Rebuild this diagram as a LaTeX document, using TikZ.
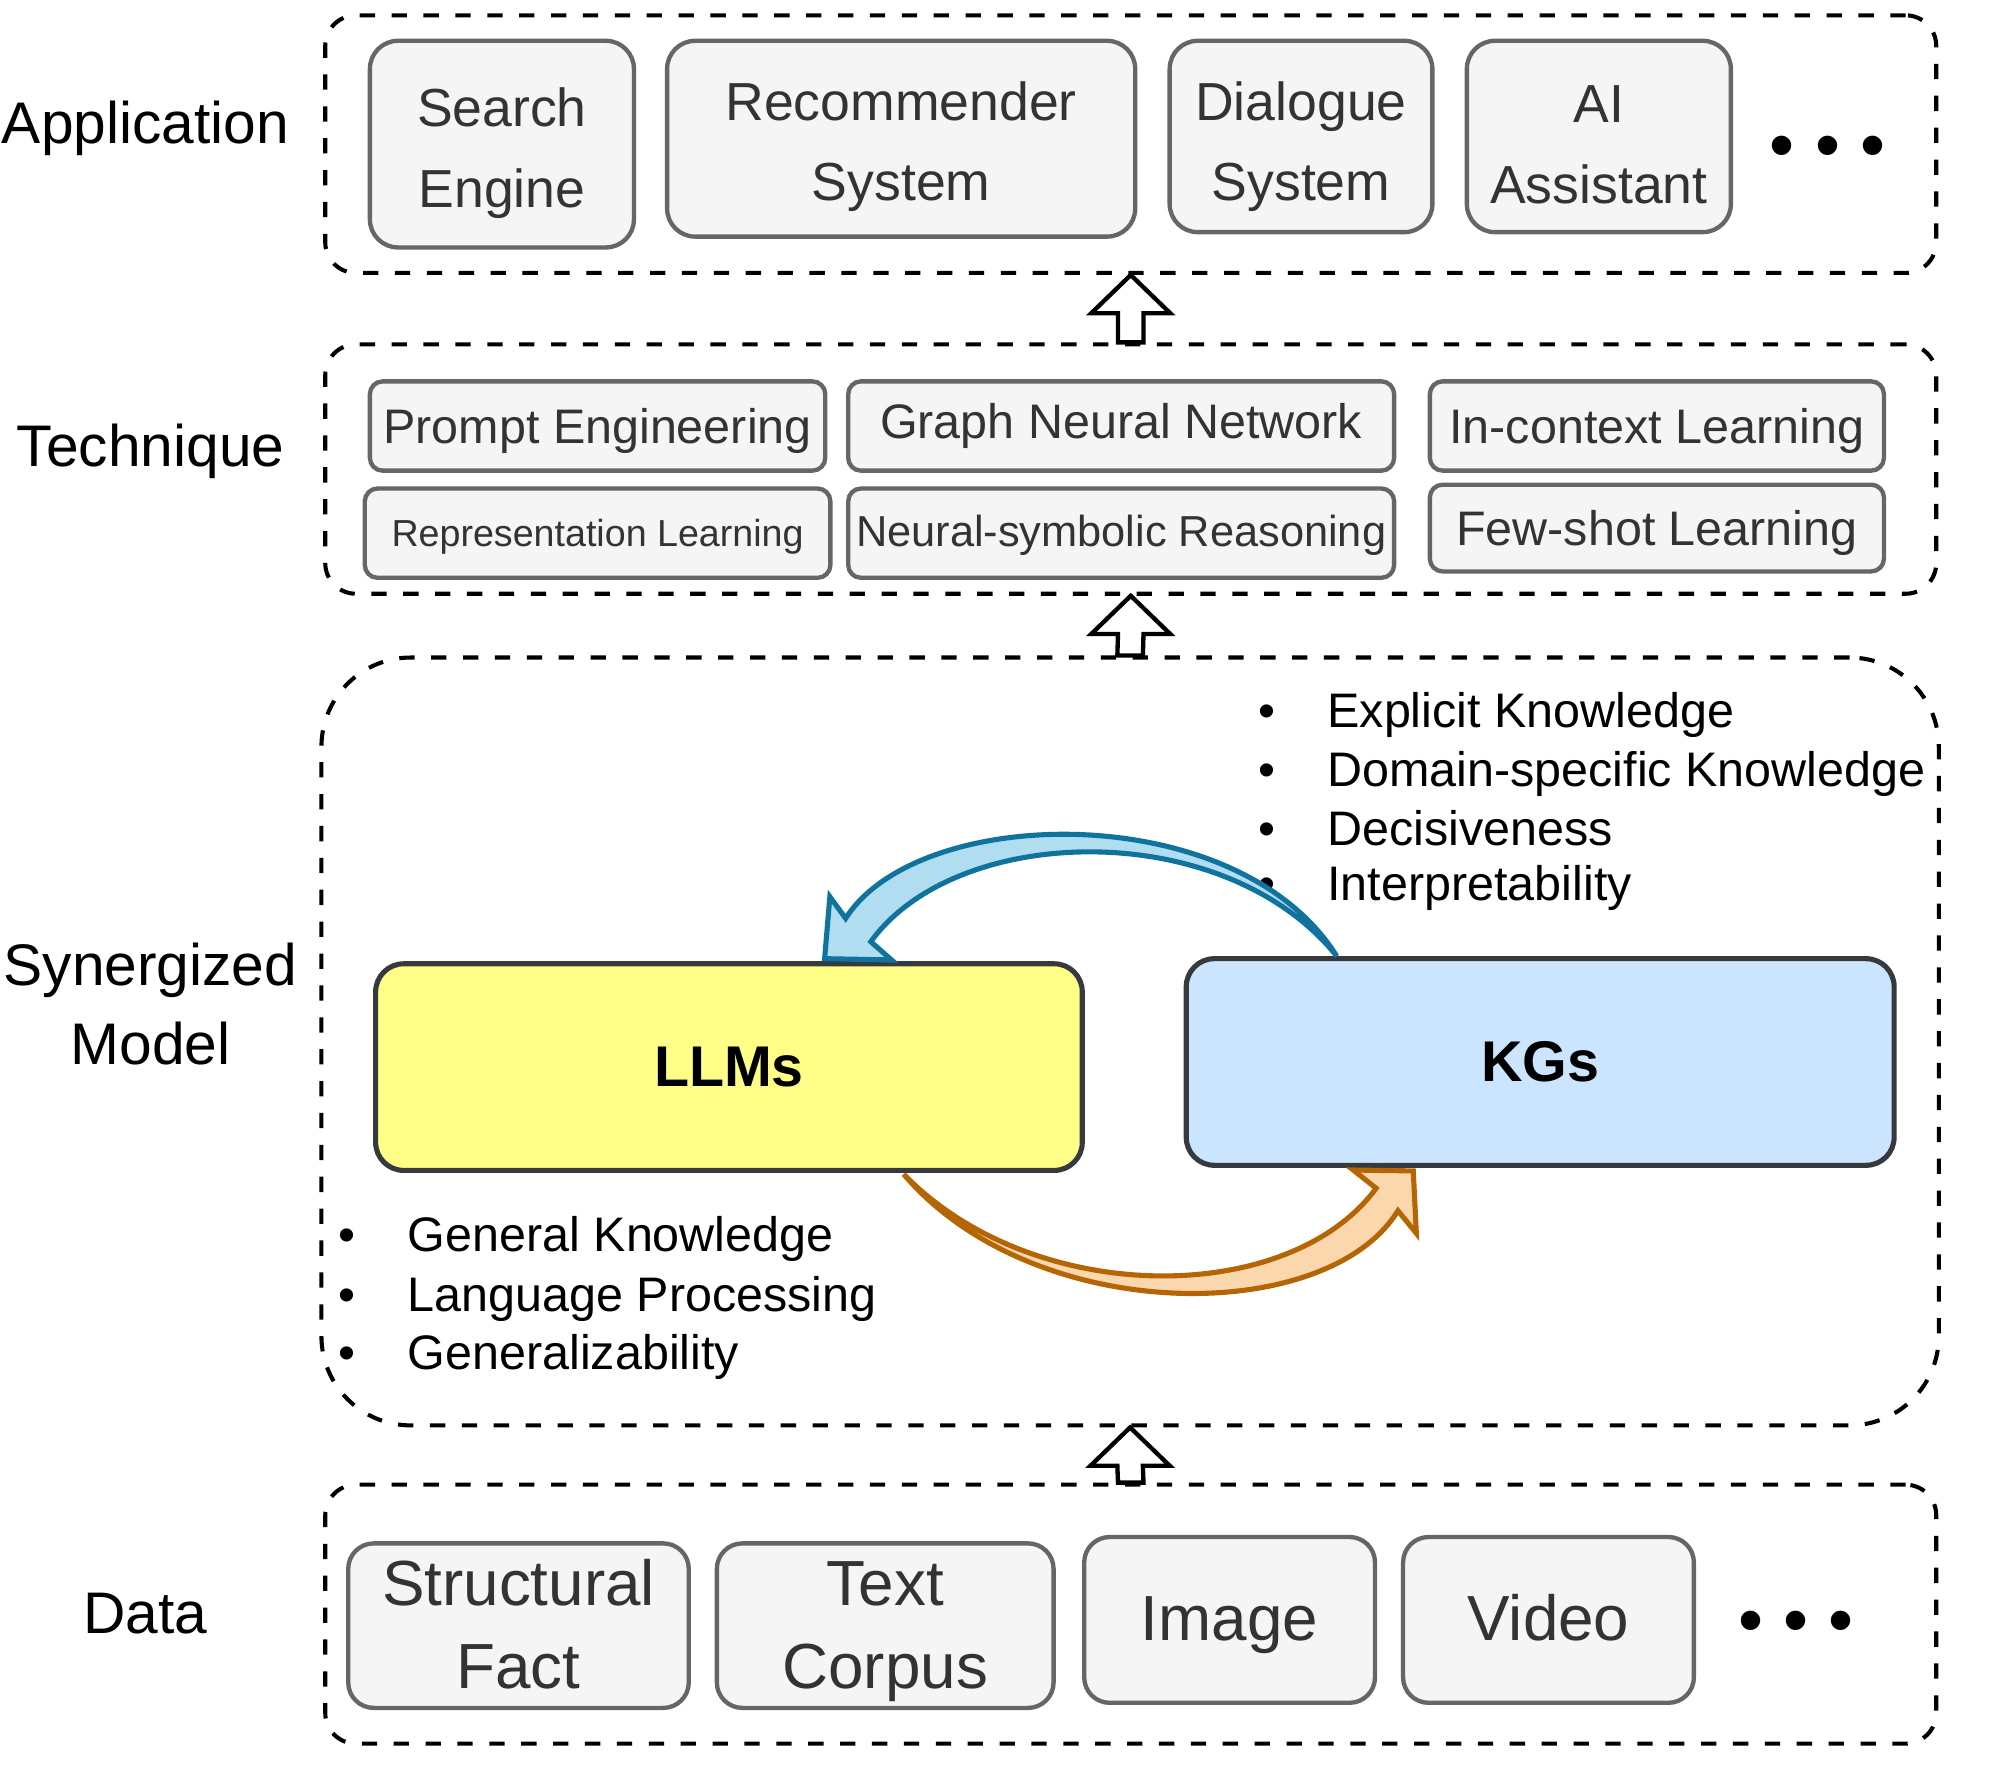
\documentclass[tikz,border=0pt]{standalone}
\usepackage{fontspec}
\setmainfont{Liberation Sans}
\usetikzlibrary{calc}

\definecolor{boxgray}{HTML}{F5F5F5}
\definecolor{boxline}{HTML}{666666}
\definecolor{boxtext}{HTML}{333333}
\definecolor{llmfill}{HTML}{FFFF88}
\definecolor{kgfill}{HTML}{CCE5FF}
\definecolor{modline}{HTML}{36393D}
\definecolor{kgarrline}{HTML}{10739E}
\definecolor{kgarrfill}{HTML}{B1DDF0}
\definecolor{llmarrline}{HTML}{B46504}
\definecolor{llmarrfill}{HTML}{FAD7AC}

\tikzset{every picture/.style={line width=0.75pt}}
\tikzset{
  layer/.style={draw, dash pattern=on 6pt off 6.5pt, line width=1.6pt, rounded corners=12pt, inner sep=0pt},
  layerlabel/.style={align=center, inner sep=0pt, font=\fontsize{23}{31}\selectfont},
  grayitem/.style={draw=boxline, fill=boxgray, line width=1.7pt, inner sep=0pt},
  appitem/.style={grayitem, rounded corners=11pt},
  techitem/.style={grayitem, rounded corners=5pt, minimum height=35pt},
  dataitem/.style={grayitem, rounded corners=10pt},
  itemtext/.style={text=boxtext, align=center, inner sep=0pt},
  apptext/.style={itemtext, font=\fontsize{21}{31.5}\selectfont},
  techtext/.style={itemtext, font=\fontsize{19}{23}\selectfont},
  datatext/.style={itemtext, font=\fontsize{25}{32.5}\selectfont},
  modelbox/.style={draw=modline, line width=2pt, rounded corners=11pt, inner sep=0pt, minimum width=277pt, minimum height=81pt, font=\fontsize{22.5}{27}\selectfont\bfseries},
  traitline/.style={anchor=base west, inner sep=0pt, font=\fontsize{19}{23}\selectfont},
  moredots/.style={inner sep=0pt, font=\fontsize{28}{30}\selectfont},
  liftstyle/.style={draw, fill=white, line width=1.7pt, line join=miter},
  kgarrow/.style={draw=kgarrline, fill=kgarrfill, line width=2pt, line join=miter},
  llmarrow/.style={draw=llmarrline, fill=llmarrfill, line width=2pt, line join=miter}
}

\newcommand{\liftarrow}[2]{%
  \draw [liftstyle] ($(#1)+(-10,0)$) -- ($(#2)+(-10,30)$) -- ($(#2)+(-31,30)$) -- (#2) -- ($(#2)+(31,30)$) -- ($(#2)+(10,30)$) -- ($(#1)+(10,0)$) -- cycle;}

\begin{document}
\begin{tikzpicture}[x=0.5pt,y=0.5pt,yscale=-1,xscale=1]
\useasboundingbox (0,0) rectangle (1568,1385);

% Layer Frame
\node (app) [layer, minimum width=631.5pt, minimum height=101pt] at (886.5,113) {};
% Layer Frame
\node (tech) [layer, minimum width=631.5pt, minimum height=97.75pt] at (886.5,367.75) {};
% Layer Frame
\node (syn) [layer, rounded corners=35pt, minimum width=634pt, minimum height=301pt] at (886,816.5) {};
% Layer Frame
\node (data) [layer, minimum width=631.5pt, minimum height=101.5pt] at (886.5,1265.5) {};

% Text Node
\node (applbl) [layerlabel] at (114,101) {Application};
% Text Node
\node (techlbl) [layerlabel] at (118,354) {Technique};
% Text Node
\node (synlbl) [layerlabel] at (118,787.5) {Synergized\\Model};
% Text Node
\node (datalbl) [layerlabel] at (114,1265) {Data};

% Application
\node (search) [appitem, minimum width=103.5pt, minimum height=81pt] at (393.5,113) {};
\node (searchtxt) [apptext] at (393.5,120) {Search\\Engine};
\node (recsys) [appitem, minimum width=183.5pt, minimum height=76.75pt] at (706.5,108.75) {};
\node (recsystxt) [apptext] at (706.5,115) {Recommender\\System};
\node (dialog) [appitem, minimum width=103pt, minimum height=75pt] at (1020,107) {};
\node (dialogtxt) [apptext] at (1020,115) {Dialogue\\System};
\node (aiassist) [appitem, minimum width=103.5pt, minimum height=75pt] at (1253.5,107) {};
\node (aiassisttxt) [apptext] at (1253.5,113.5) {AI\\Assistant};
\node (appdots) [moredots] at (1433,120) {•\hspace{8pt}•\hspace{8pt}•};

% Technique
\node (prompt) [techitem, minimum width=178.5pt] at (468.5,334) {};
\node (prompttxt) [techtext] at (468.5,338) {Prompt Engineering};
\node (gnn) [techitem, minimum width=214pt] at (879,334) {};
\node (gnntxt) [techtext] at (879,334) {Graph Neural Network};
\node (icl) [techitem, minimum width=178pt] at (1299,334) {};
\node (icltxt) [techtext] at (1299,338) {In-context Learning};
\node (replearn) [techitem, minimum width=182.5pt] at (468.5,418) {};
\node (replearntxt) [techtext, font=\fontsize{14.75}{18}\selectfont] at (468.5,421) {Representation Learning};
\node (neurosym) [techitem, minimum width=214pt] at (879,418) {};
\node (neurosymtxt) [techtext, font=\fontsize{17}{20}\selectfont] at (879,420) {Neural-symbolic Reasoning};
\node (fewshot) [techitem, minimum width=178pt, minimum height=34pt] at (1299,414) {};
\node (fewshottxt) [techtext] at (1299,418) {Few-shot Learning};

% Synergized Model
\node (llms) [modelbox, fill=llmfill] at (571.5,836.6) {LLMs};
\node (kgs) [modelbox, fill=kgfill, minimum width=277.5pt] at (1207.5,832.6) {KGs};

% Text Node
\node (kgt1) [traitline] at (986,570) {\makebox[27pt][l]{•}Explicit Knowledge};
\node (kgt2) [traitline] at (986,617) {\makebox[27pt][l]{•}Domain-specific Knowledge};
\node (kgt3) [traitline] at (986,663) {\makebox[27pt][l]{•}Decisiveness};
\node (kgt4) [traitline] at (986,706) {\makebox[27pt][l]{•}Interpretability};
% Text Node
\node (llmt1) [traitline] at (265,981) {\makebox[27pt][l]{•}General Knowledge};
\node (llmt2) [traitline] at (265,1028) {\makebox[27pt][l]{•}Language Processing};
\node (llmt3) [traitline] at (265,1074) {\makebox[27pt][l]{•}Generalizability};

% Data
\node (structfact) [dataitem, minimum width=133.5pt, minimum height=64.5pt] at (406.5,1274.5) {};
\node (structfacttxt) [datatext] at (406.5,1273.5) {Structural\\Fact};
\node (textcorpus) [dataitem, minimum width=132pt, minimum height=64.5pt] at (694,1274.5) {};
\node (textcorpustxt) [datatext] at (694,1279) {Text\\Corpus};
\node (image) [dataitem, minimum width=114pt, minimum height=65pt] at (964,1270) {};
\node (imagetxt) [datatext] at (964,1274) {Image};
\node (video) [dataitem, minimum width=114pt, minimum height=65pt] at (1214,1270) {};
\node (videotxt) [datatext] at (1214,1268) {Video};
\node (datadots) [moredots] at (1408,1276) {•\hspace{8pt}•\hspace{8pt}•};

% Connection
\coordinate (kgtail) at ($(kgs.north west)+(120,0)$);
\coordinate (llmtip) at ($(llms.north west)+(354,-2)$);
\draw [kgarrow] (kgtail) .. controls (970,625) and (720,630) .. (663,720) -- (650.6,703) -- (llmtip) -- (699,752.6) -- (682.7,738.3) .. controls (750,645) and (960,640) .. (kgtail) -- cycle;
% Connection
\coordinate (llmtail) at ($(llms.south west)+(416,1)$);
\coordinate (kgtip) at ($(kgs.south west)+(180,2.4)$);
\draw [llmarrow] (llmtail) .. controls (810,1040) and (1040,1040) .. (1096,949.2) -- (1110.4,966.9) -- (kgtip) -- (1060.9,917.3) -- (1078.9,931.6) .. controls (1010,1025) and (810,1025) .. (llmtail) -- cycle;

% Connection
\liftarrow{tech.north}{app.south}
\liftarrow{syn.north}{tech.south}
\liftarrow{data.north}{syn.south}

\end{tikzpicture}
\end{document}
